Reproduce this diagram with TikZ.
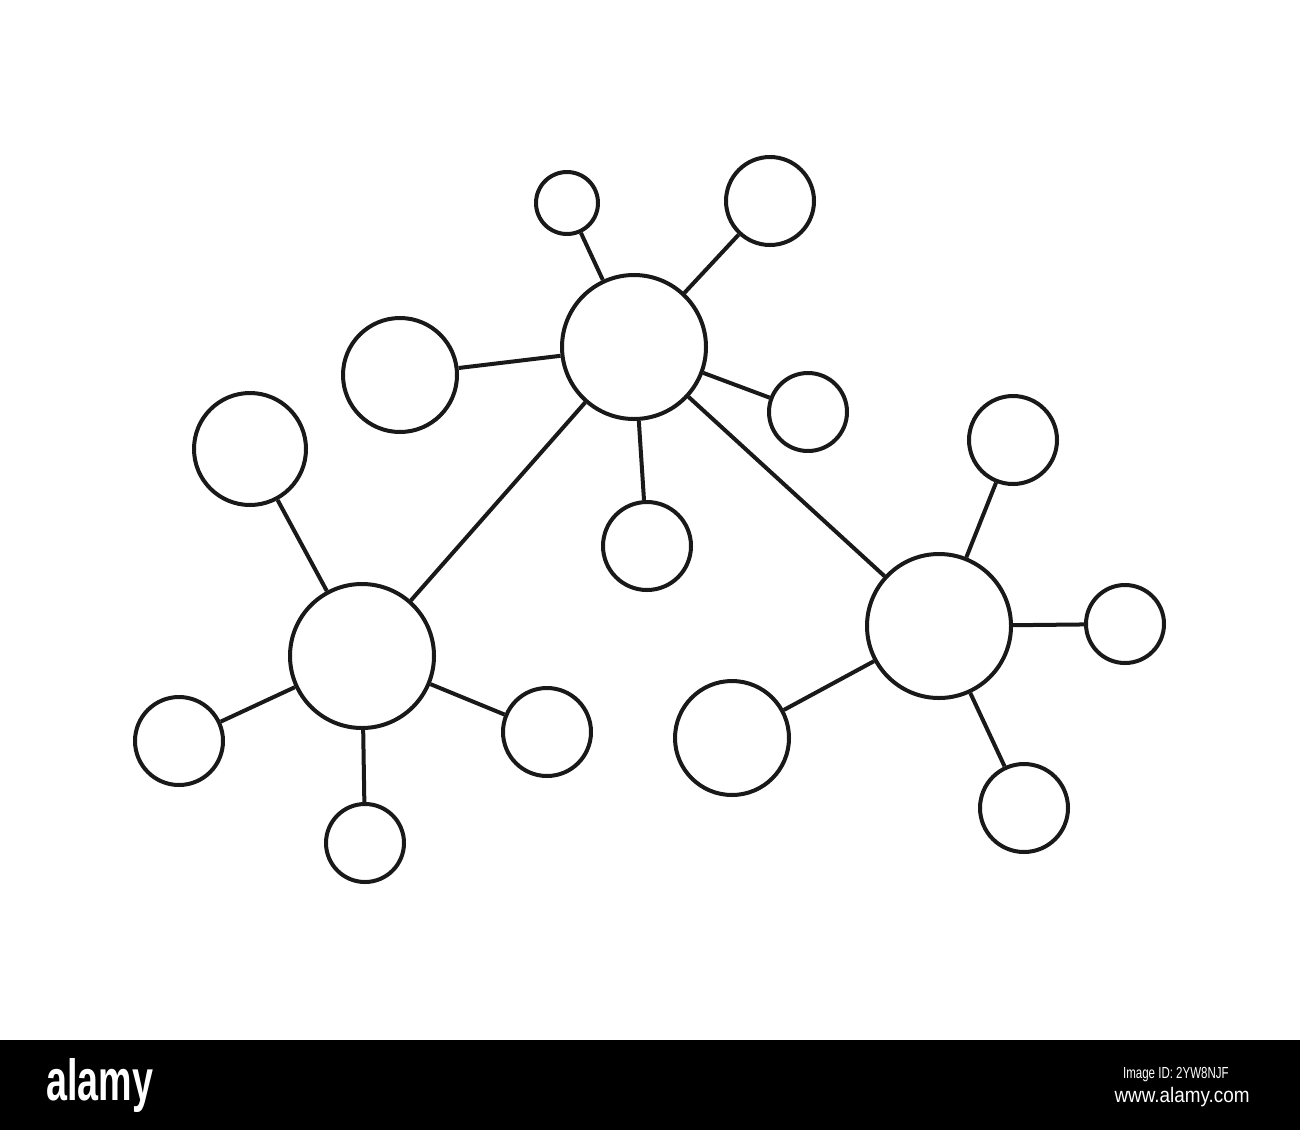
\documentclass[tikz,border=0pt]{standalone}
\usepackage{fontspec}
\setmainfont{Liberation Sans}
\begin{document}
\begin{tikzpicture}[x=0.5pt,y=-0.5pt,
  bub/.style={circle,draw=black!90,line width=2pt,inner sep=0pt,minimum size=#1},
  link/.style={draw=black!90,line width=2pt}]
\useasboundingbox (0,0) rectangle (1300,1130);
\fill[white] (0,0) rectangle (1300,1130);
% hubs
\node[bub=72pt] (T) at (634,347) {};
\node[bub=72pt] (L) at (362,656) {};
\node[bub=72pt] (R) at (939,626) {};
% top satellites
\node[bub=31pt] (t1) at (567,203) {};
\node[bub=44pt] (t2) at (770,201) {};
\node[bub=57pt] (t3) at (400,375) {};
\node[bub=39pt] (t4) at (808,412) {};
\node[bub=44pt] (t5) at (647,546) {};
% left satellites
\node[bub=56pt] (l1) at (250,449) {};
\node[bub=44pt] (l2) at (179,741) {};
\node[bub=39pt] (l3) at (365,843) {};
\node[bub=44pt] (l4) at (547,732) {};
% right satellites
\node[bub=44pt] (r1) at (1013,440) {};
\node[bub=39pt] (r2) at (1125,624) {};
\node[bub=44pt] (r3) at (1024,808) {};
\node[bub=57pt] (r4) at (732,738) {};
% links
\foreach \a/\b in {T/t1,T/t2,T/t3,T/t4,T/t5,L/l1,L/l2,L/l3,L/l4,R/r1,R/r2,R/r3,R/r4,T/L,T/R}
  \draw[link] (\a) -- (\b);
% watermark bar
\fill[black] (0,1040) rectangle (1300,1130);
\node[text=white,font=\bfseries\fontsize{29}{29}\selectfont,xscale=0.65,inner sep=0pt] (logo) at (100,1085) {alamy};
\node[text=white,font=\fontsize{8}{8}\selectfont,xscale=0.72,inner sep=0pt,anchor=east] (imgid) at (1229,1075) {Image ID: 2YW8NJF};
\node[text=white,font=\fontsize{10.5}{10.5}\selectfont,xscale=0.9,inner sep=0pt,anchor=east] (url) at (1250,1097) {www.alamy.com};
\end{tikzpicture}
\end{document}
